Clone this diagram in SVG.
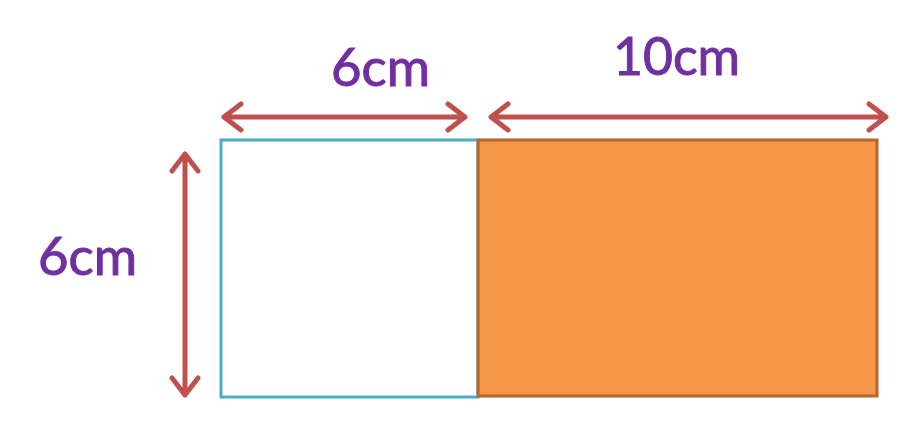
<svg xmlns="http://www.w3.org/2000/svg" width="916" height="426" viewBox="0 0 916 426">
<style>
.dim{stroke:#c0504d;stroke-width:5;fill:none;stroke-linecap:round;stroke-linejoin:round}
.lbl{font-family:Lato,"Open Sans",sans-serif;font-size:52px;fill:#7030a0;stroke:#7030a0;stroke-width:1}
</style>
<rect width="916" height="426" fill="#fff"/>
<g id="square">
<rect x="221" y="140" width="257" height="257" fill="#fff" stroke="#4bacc6" stroke-width="3"/>
</g>
<g id="rectangle">
<rect x="478" y="140" width="399" height="256" fill="#f79646" stroke="#b3672e" stroke-width="3"/>
</g>
<g id="connectors">
<path class="dim" d="M224 117 H465 M241 104 L224 117 L241 130 M448 104 L465 117 L448 130"/>
<path class="dim" d="M491 117 H886 M508 104 L491 117 L508 130 M869 104 L886 117 L869 130"/>
<path class="dim" d="M185 154 V395 M172 171 L185 154 L198 171 M172 378 L185 395 L198 378"/>
</g>
<g id="labels">
<text class="lbl" x="331" y="86" textLength="99" lengthAdjust="spacingAndGlyphs">6cm</text>
<text class="lbl" x="613" y="75" textLength="127" lengthAdjust="spacingAndGlyphs">10cm</text>
<text class="lbl" x="38" y="275" textLength="99" lengthAdjust="spacingAndGlyphs">6cm</text>
</g>
</svg>
